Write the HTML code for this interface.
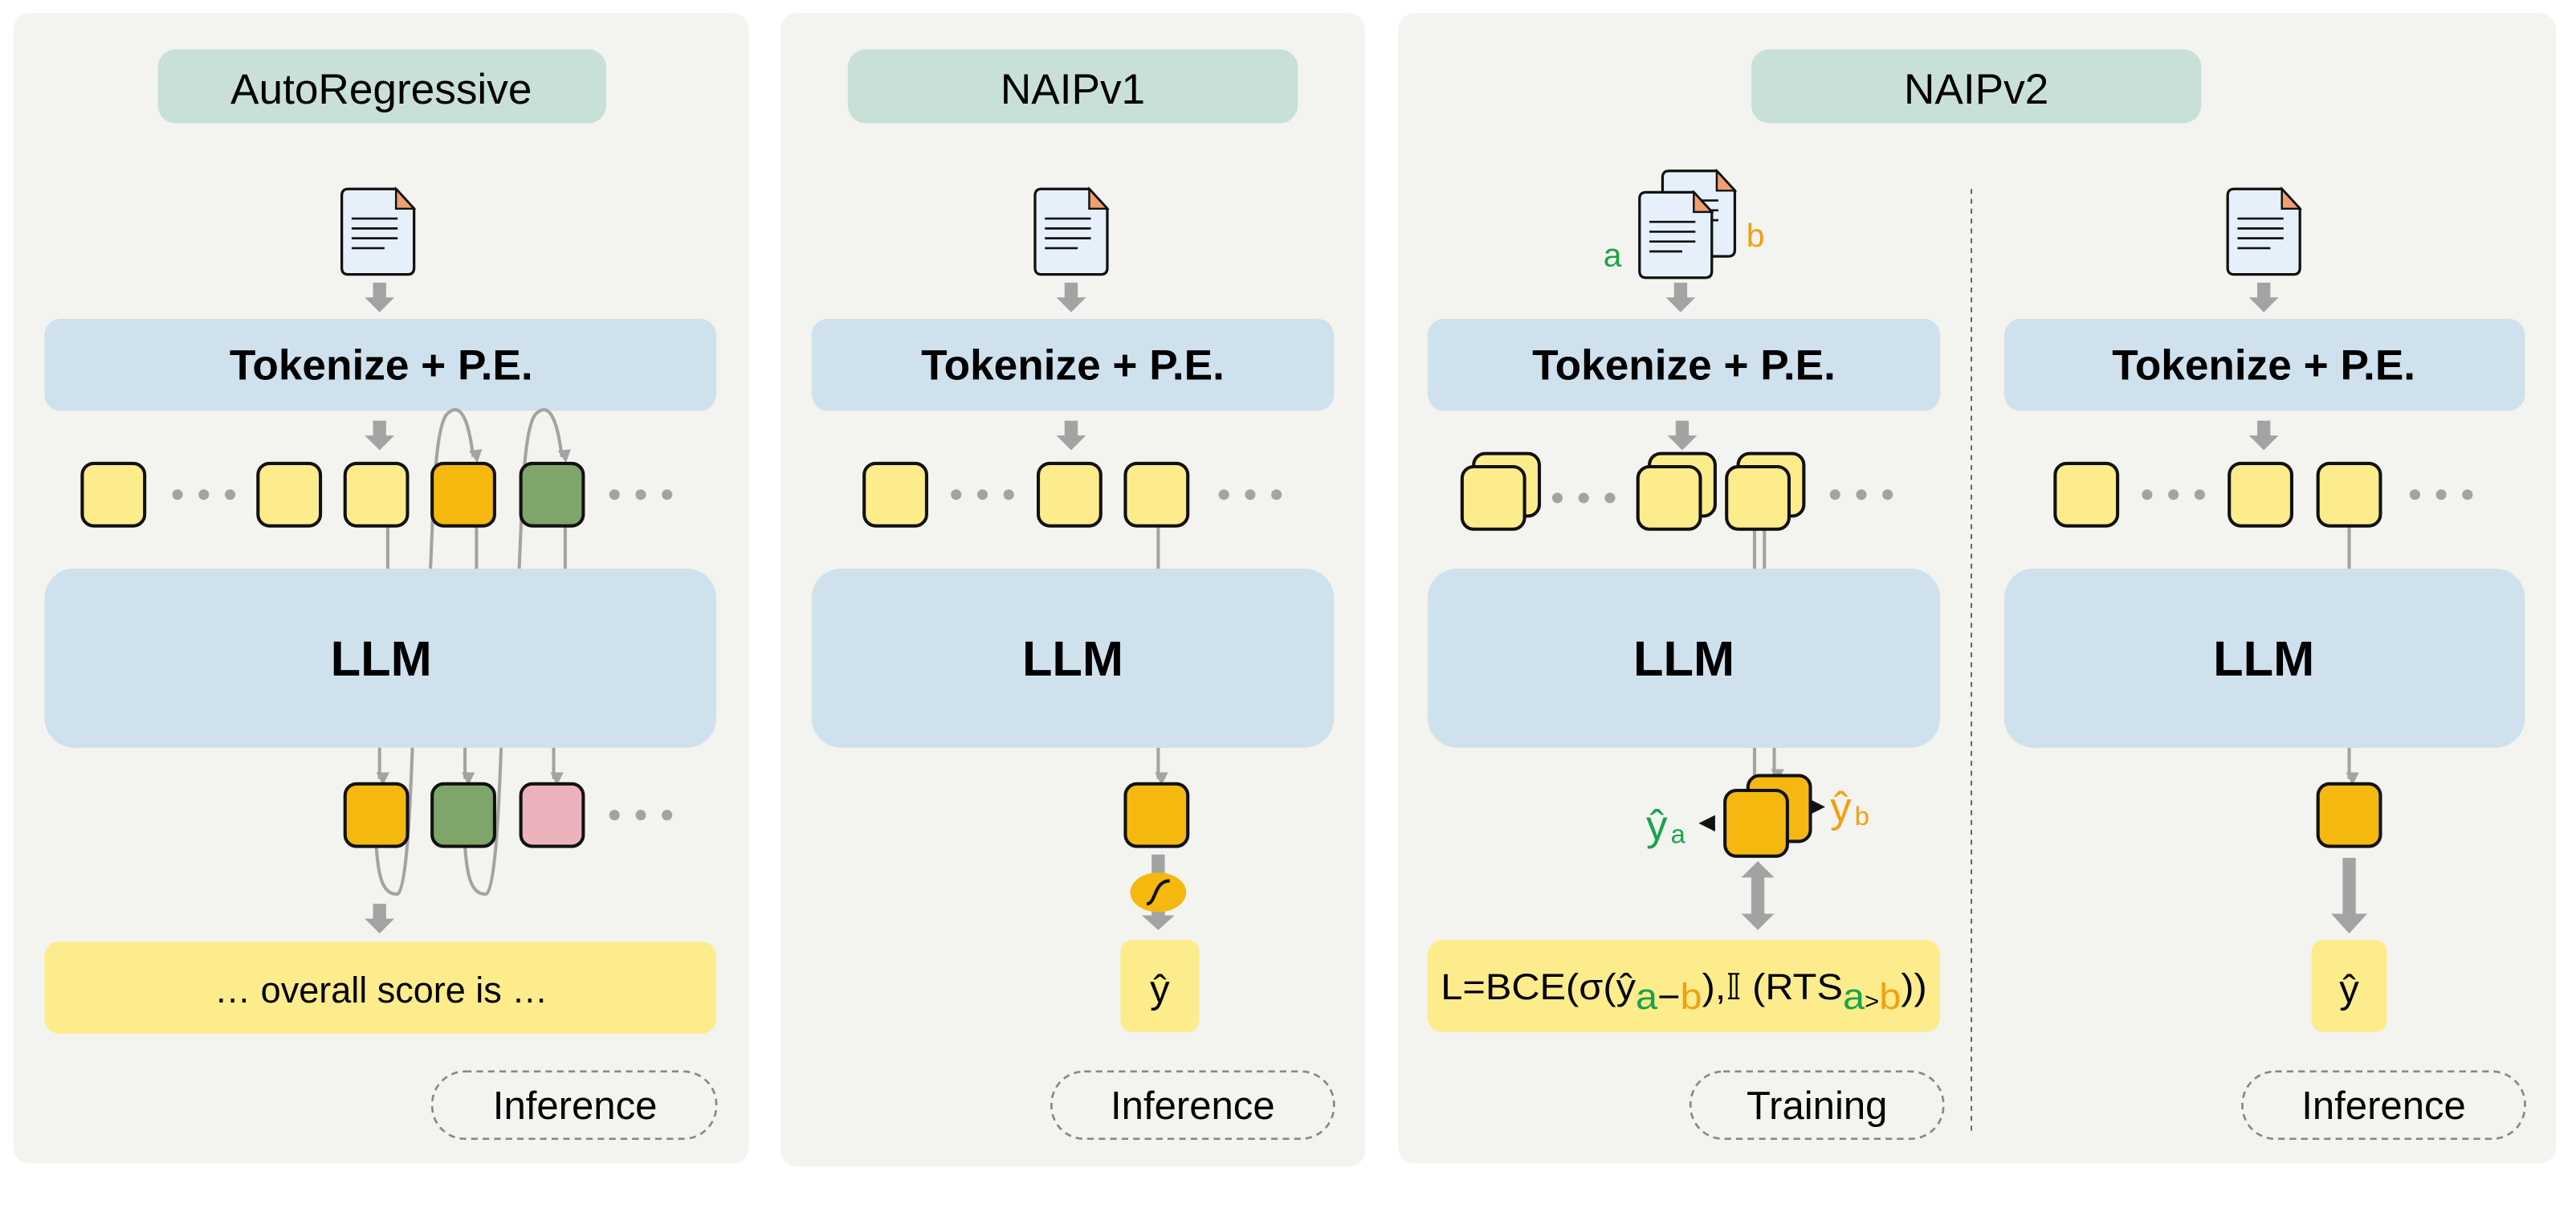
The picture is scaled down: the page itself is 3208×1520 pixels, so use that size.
<!DOCTYPE html>
<html><head><meta charset="utf-8"><style>
html,body{margin:0;padding:0;background:#fff;}
svg{display:block}
text{font-family:"Liberation Sans",sans-serif;}
</style></head><body>
<svg width="3208" height="1520" viewBox="0 0 1568 743" xmlns="http://www.w3.org/2000/svg">
<defs>
<g id="doc">
<path d="M0,4 q0,-4 4,-4 h29 l11,12 v36 q0,4 -4,4 h-36 q-4,0 -4,-4z" fill="#e6f0fb" stroke="#111" stroke-width="1.6"/>
<path d="M33,0 v12 h11z" fill="#f0a070" stroke="#111" stroke-width="1.2"/>
<path d="M6,18 h28 M6,24 h28 M6,30 h28 M6,36 h20" stroke="#111" stroke-width="1.3"/>
</g>
<g id="darr"><rect x="-4" y="0" width="8" height="10" fill="#a3a3a3"/><path d="M-9,9 L9,9 L0,18z" fill="#a3a3a3"/></g>
<marker id="ah" markerWidth="8" markerHeight="8" refX="4" refY="6" orient="auto" markerUnits="userSpaceOnUse"><path d="M0,0 L8,0 L4,8z" fill="#a3a3a3" transform="rotate(-90 4 4)"/></marker>
<g id="tk"><rect x="0" y="0" width="38" height="38" rx="7" fill="#fdec8c" stroke="#111" stroke-width="2"/></g>
<g id="dots"><circle cx="0" cy="0" r="3.2" fill="#a3a3a3"/><circle cx="16" cy="0" r="3.2" fill="#a3a3a3"/><circle cx="32" cy="0" r="3.2" fill="#a3a3a3"/></g>
</defs>

<rect x="8" y="8" width="448" height="700" rx="10" fill="#f3f4ef"/>
<rect x="475" y="8" width="356" height="702" rx="10" fill="#f3f4ef"/>
<rect x="851" y="8" width="705" height="700" rx="10" fill="#f3f4ef"/>

<rect x="96" y="30" width="273" height="45" rx="11" fill="#c9e0d9"/>
<text x="232" y="63" font-size="26" text-anchor="middle">AutoRegressive</text>
<rect x="516" y="30" width="274" height="45" rx="11" fill="#c9e0d9"/>
<text x="653" y="63" font-size="26" text-anchor="middle">NAIPv1</text>
<rect x="1066" y="30" width="274" height="45" rx="11" fill="#c9e0d9"/>
<text x="1203" y="63" font-size="26" text-anchor="middle">NAIPv2</text>

<use href="#doc" x="208" y="115"/>
<use href="#doc" x="630" y="115"/>
<use href="#doc" x="1356" y="115"/>
<use href="#doc" x="1012" y="104"/>
<use href="#doc" x="998" y="117"/>
<text x="976" y="162" font-size="20" fill="#1aa34a">a</text>
<text x="1063" y="150" font-size="20" fill="#f0a010">b</text>

<use href="#darr" x="231" y="172"/>
<use href="#darr" x="652" y="172"/>
<use href="#darr" x="1023" y="172"/>
<use href="#darr" x="1378" y="172"/>

<rect x="27" y="194" width="409" height="56" rx="10" fill="#cfe1ec"/>
<rect x="494" y="194" width="318" height="56" rx="10" fill="#cfe1ec"/>
<rect x="869" y="194" width="312" height="56" rx="10" fill="#cfe1ec"/>
<rect x="1220" y="194" width="317" height="56" rx="10" fill="#cfe1ec"/>
<g font-size="26" font-weight="bold" text-anchor="middle">
<text x="232" y="231">Tokenize + P.E.</text>
<text x="653" y="231">Tokenize + P.E.</text>
<text x="1025" y="231">Tokenize + P.E.</text>
<text x="1378" y="231">Tokenize + P.E.</text>
</g>

<use href="#darr" x="231" y="256"/>
<use href="#darr" x="652" y="256"/>
<use href="#darr" x="1024" y="256"/>
<use href="#darr" x="1378" y="256"/>

<rect x="27" y="346" width="409" height="109" rx="18" fill="#cfe1ec"/>
<rect x="494" y="346" width="318" height="109" rx="18" fill="#cfe1ec"/>
<rect x="869" y="346" width="312" height="109" rx="18" fill="#cfe1ec"/>
<rect x="1220" y="346" width="317" height="109" rx="18" fill="#cfe1ec"/>
<g font-size="30" font-weight="bold" text-anchor="middle">
<text x="232" y="411">LLM</text><text x="653" y="411">LLM</text>
<text x="1025" y="411">LLM</text><text x="1378" y="411">LLM</text>
</g>

<g stroke="#a3a3a3" stroke-width="2" fill="none">
<path d="M236,320 V346"/><path d="M290,320 V346"/><path d="M344,320 V346"/>
<path d="M262,346 C264,300 265,260 272,252 C282,242 286,262 288,278" marker-end="url(#ah)"/>
<path d="M316,346 C318,300 319,260 326,252 C336,242 340,262 342,278" marker-end="url(#ah)"/>
<path d="M231,455 V474" marker-end="url(#ah)"/><path d="M283,455 V474" marker-end="url(#ah)"/><path d="M337,455 V474" marker-end="url(#ah)"/>
<path d="M229,515 C230,530 232,545 242,544 C248,540 250,480 251,455"/>
<path d="M283,515 C284,530 286,545 296,544 C302,540 304,480 305,455"/>
<path d="M705,320 V346"/><path d="M705,455 V474" marker-end="url(#ah)"/>
<path d="M1430,320 V346"/><path d="M1430,455 V474" marker-end="url(#ah)"/>
<path d="M1068,320 V346 M1074,320 V346"/>
<path d="M1068,455 V486" marker-end="url(#ah)"/><path d="M1080,455 V472" marker-end="url(#ah)"/>
</g>

<use href="#tk" x="50" y="282"/><use href="#tk" x="157" y="282"/><use href="#tk" x="210" y="282"/>
<rect x="263" y="282" width="38" height="38" rx="7" fill="#f5b80f" stroke="#111" stroke-width="2"/>
<rect x="317" y="282" width="38" height="38" rx="7" fill="#7fa56a" stroke="#111" stroke-width="2"/>
<use href="#dots" x="108" y="301"/><use href="#dots" x="374" y="301"/>
<rect x="210" y="477" width="38" height="38" rx="7" fill="#f5b80f" stroke="#111" stroke-width="2"/>
<rect x="263" y="477" width="38" height="38" rx="7" fill="#7fa56a" stroke="#111" stroke-width="2"/>
<rect x="317" y="477" width="38" height="38" rx="7" fill="#ecb2bc" stroke="#111" stroke-width="2"/>
<use href="#dots" x="374" y="496"/>
<use href="#darr" x="231" y="550"/>
<rect x="27" y="573" width="409" height="56" rx="9" fill="#fdec8c"/>
<text x="232" y="610" font-size="22" text-anchor="middle">… overall score is …</text>

<use href="#tk" x="526" y="282"/><use href="#tk" x="632" y="282"/><use href="#tk" x="685" y="282"/>
<use href="#dots" x="582" y="301"/><use href="#dots" x="745" y="301"/>
<rect x="685" y="477" width="38" height="38" rx="7" fill="#f5b80f" stroke="#111" stroke-width="2"/>
<rect x="701" y="520" width="8" height="40" fill="#a3a3a3"/><path d="M695,557 L715,557 L705,566z" fill="#a3a3a3"/>
<ellipse cx="705" cy="543" rx="17" ry="12" fill="#f5b80f"/>
<path d="M698,550 C704,550 702,536 712,536" stroke="#111" stroke-width="2" fill="none"/>
<rect x="682" y="572" width="48" height="56" rx="7" fill="#fdec8c"/>
<text x="706" y="610" font-size="24" text-anchor="middle">ŷ</text>

<g stroke="#111" stroke-width="2" fill="#fdec8c">
<rect x="897" y="276" width="40" height="38" rx="7"/><rect x="890" y="284" width="38" height="38" rx="7"/>
<rect x="1004" y="276" width="40" height="38" rx="7"/><rect x="997" y="284" width="38" height="38" rx="7"/>
<rect x="1058" y="276" width="40" height="38" rx="7"/><rect x="1051" y="284" width="38" height="38" rx="7"/>
</g>
<use href="#dots" x="948" y="303"/><use href="#dots" x="1117" y="301"/>
<g stroke="#111" stroke-width="2" fill="#f5b80f">
<rect x="1064" y="472" width="38" height="40" rx="7"/><rect x="1050" y="481" width="38" height="40" rx="7"/>
</g>
<path d="M1044,496 L1034,501 L1044,506z" fill="#111"/>
<path d="M1101,486 L1111,491 L1101,496z" fill="#111"/>
<text x="1002" y="511" font-size="26" fill="#1aa34a">ŷ</text><text x="1017" y="513" font-size="16" fill="#1aa34a">a</text>
<text x="1114" y="500" font-size="26" fill="#f0a010">ŷ</text><text x="1129" y="502" font-size="16" fill="#f0a010">b</text>
<rect x="1066" y="532" width="8" height="26" fill="#a3a3a3"/>
<path d="M1060,534 L1080,534 L1070,524z M1060,556 L1080,556 L1070,566z" fill="#a3a3a3"/>
<rect x="869" y="572" width="312" height="56" rx="9" fill="#fdec8c"/>
<text x="877" y="608" font-size="22" textLength="296" lengthAdjust="spacingAndGlyphs">L=BCE(σ(ŷ<tspan dy="6" fill="#1aa34a">a</tspan><tspan>−</tspan><tspan fill="#f0a010">b</tspan><tspan dy="-6">),𝕀 (RTS</tspan><tspan dy="6" fill="#1aa34a">a</tspan><tspan font-size="14">&gt;</tspan><tspan fill="#f0a010">b</tspan><tspan dy="-6">))</tspan></text>

<line x1="1200" y1="115" x2="1200" y2="690" stroke="#666" stroke-width="1" stroke-dasharray="3,3"/>

<use href="#tk" x="1251" y="282"/><use href="#tk" x="1357" y="282"/><use href="#tk" x="1411" y="282"/>
<use href="#dots" x="1307" y="301"/><use href="#dots" x="1470" y="301"/>
<rect x="1411" y="477" width="38" height="38" rx="7" fill="#f5b80f" stroke="#111" stroke-width="2"/>
<rect x="1426" y="522" width="8" height="36" fill="#a3a3a3"/><path d="M1419,556 L1441,556 L1430,568z" fill="#a3a3a3"/>
<rect x="1407" y="572" width="46" height="56" rx="7" fill="#fdec8c"/>
<text x="1430" y="610" font-size="24" text-anchor="middle">ŷ</text>

<g fill="none" stroke="#888" stroke-width="1.3" stroke-dasharray="4,3">
<rect x="263" y="652" width="173" height="41" rx="20"/>
<rect x="640" y="652" width="172" height="41" rx="20"/>
<rect x="1029" y="652" width="154" height="41" rx="20"/>
<rect x="1365" y="652" width="172" height="41" rx="20"/>
</g>
<g font-size="24" text-anchor="middle">
<text x="350" y="681">Inference</text><text x="726" y="681">Inference</text>
<text x="1106" y="681">Training</text><text x="1451" y="681">Inference</text>
</g>
</svg>
</body></html>
